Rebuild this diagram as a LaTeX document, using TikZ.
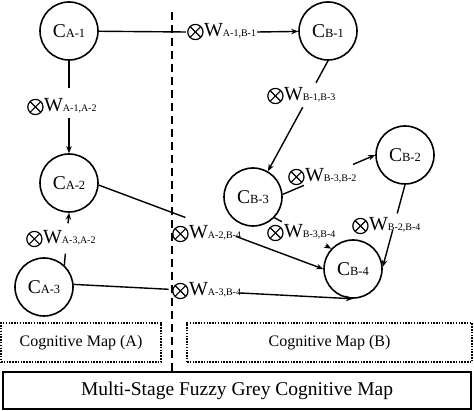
\documentclass[tikz,border=0pt]{standalone}
\usepackage{fontspec}
\setmainfont{Liberation Serif}
\usetikzlibrary{arrows.meta,calc}
\newcommand{\ox}{\tikz[baseline=-5pt,x=1pt,y=1pt,line width=1.2pt]{\draw (0,0) circle (7.6); \draw (-5.4,-5.4)--(5.4,5.4) (-5.4,5.4)--(5.4,-5.4);}}
\newcommand{\wl}[1]{\ox\hspace{0.5pt}{\fontsize{20}{20}\selectfont W}{\fontsize{10}{10}\selectfont #1}}
\newcommand{\cl}[1]{{\fontsize{19.5}{19.5}\selectfont C}{\fontsize{12.5}{12.5}\selectfont #1}}
\tikzset{
  concept/.style={circle, draw, line width=1.6pt, minimum size=58pt, inner sep=0pt},
  wlab/.style={inner sep=1pt, anchor=west},
  conn/.style={line width=1.4pt},
  arr/.style={conn, -{Stealth[length=7pt,width=5.5pt]}},
  dotbox/.style={draw, line width=1.5pt, dash pattern=on 1.5pt off 1.3pt, minimum height=39pt, inner sep=0pt, font=\fontsize{16}{16}\selectfont},
}
\begin{document}
\begin{tikzpicture}[x=1pt,y=-1pt]
\useasboundingbox (0,0) rectangle (474,411);
% concepts
\node[concept] (ca1) at (69,31) {\cl{A-1}};
\node[concept] (ca2) at (69,183) {\cl{A-2}};
\node[concept] (ca3) at (44,287) {\cl{A-3}};
\node[concept] (cb1) at (328,31) {\cl{B-1}};
\node[concept] (cb2) at (405,155) {\cl{B-2}};
\node[concept] (cb3) at (253,197) {\cl{B-3}};
\node[concept] (cb4) at (353,269) {\cl{B-4}};
% weight labels
\node[wlab] (wa1b1) at (186,32) {\wl{A-1,B-1}};
\node[wlab] (wa1a2) at (26,107) {\wl{A-1,A-2}};
\node[wlab] (wb1b3) at (266,96) {\wl{B-1,B-3}};
\node[wlab] (wb3b2) at (287,177) {\wl{B-3,B-2}};
\node[wlab] (wa2b4) at (171,234) {\wl{A-2,B-4}};
\node[wlab] (wb3b4) at (266,233) {\wl{B-3,B-4}};
\node[wlab] (wb2b4) at (351,226) {\wl{B-2,B-4}};
\node[wlab] (wa3a2) at (25,239) {\wl{A-3,A-2}};
\node[wlab] (wa3b4) at (171,291) {\wl{A-3,B-4}};
% boxes
\node[dotbox, minimum width=160pt] (mapA) at (81,342.5) {Cognitive Map (A)};
\node[dotbox, minimum width=285pt] (mapB) at (329.5,342.5) {Cognitive Map (B)};
\node[draw, line width=2.5pt, minimum width=468pt, minimum height=37pt, inner sep=0pt, font=\fontsize{19.5}{19.5}\selectfont] (main) at (237,390.5) {Multi-Stage Fuzzy Grey Cognitive Map};
% divider
\coordinate (dtop) at (172,12);
\draw[line width=1.4pt, dash pattern=on 8pt off 5pt] (dtop) -- (dtop |- main.north);
% connectors
\draw[conn] (ca1) -- (wa1b1.west);
\draw[arr] (wa1b1.east) -- (cb1);
\draw[conn] (ca1.south) -- ($(ca1.south)!0.29!(ca2.north)$);
\draw[arr] ($(ca1.south)!0.62!(ca2.north)$) -- (ca2.north);
\draw[conn] (cb1.south) -- ($(cb1.south)!0.2!(cb3.60)$);
\draw[arr] ($(cb1.south)!0.42!(cb3.60)$) -- (cb3.60);
\draw[conn] (cb3.5) -- ($(cb3.5)!0.23!(cb2.west)$);
\draw[arr] ($(cb3.5)!0.76!(cb2.west)$) -- (cb2.west);
\draw[conn] (ca2.-4) -- ($(ca2.-4)!0.386!(cb4.west)$);
\draw[arr] ($(ca2.-4)!0.61!(cb4.west)$) -- (cb4.west);
\draw[conn] (cb3.-44) -- ($(cb3.-44)!0.13!(cb4.137)$);
\draw[arr] ($(cb3.-44)!0.9!(cb4.137)$) -- (cb4.137);
\draw[conn] (cb2.south) -- ($(cb2.south)!0.35!(cb4.4)$);
\draw[arr] ($(cb2.south)!0.55!(cb4.4)$) -- (cb4.4);
\draw[conn] (ca3.47) -- ($(ca3.47)!0.22!(ca2.south)$);
\draw[arr] ($(ca3.47)!0.8!(ca2.south)$) -- (ca2.south);
\draw[conn] (ca3.5) -- ($(ca3.5)!0.34!(cb4.south)$);
\draw[arr] ($(ca3.5)!0.59!(cb4.south)$) -- (cb4.south);
\end{tikzpicture}
\end{document}
